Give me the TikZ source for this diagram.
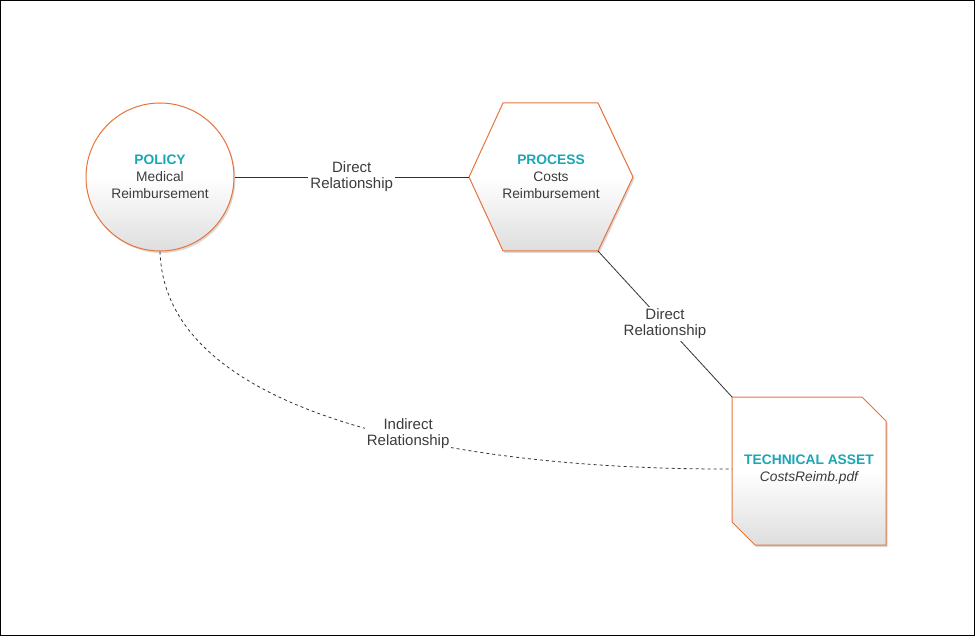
\documentclass[tikz,border=0pt]{standalone}
\usepackage{fontspec}
\setmainfont{Liberation Sans}
\usetikzlibrary{shadows}
\definecolor{edgeor}{HTML}{E8743B}
\definecolor{ttl}{HTML}{1AA6B7}
\definecolor{txt}{HTML}{3C3C3C}
\definecolor{lnc}{HTML}{333333}
\begin{document}
\begin{tikzpicture}[x=1pt,y=-1pt,
  shapefill/.style={top color=white, bottom color=black!13, middle color=white,
    draw=edgeor, line width=1pt,
    drop shadow={shadow xshift=1.5pt, shadow yshift=-2pt, opacity=0.25, fill=black!60}},
  inner/.style={align=center, text=txt, font=\fontsize{13.8}{17}\selectfont},
  conn/.style={draw=lnc, line width=0.8pt},
  lbl/.style={fill=white, align=center, text=txt, inner sep=2pt, font=\fontsize{15}{16}\selectfont},
  tt/.style={text=ttl, font=\bfseries}]
\useasboundingbox (0,0) rectangle (975,636);
\draw[black, line width=1pt] (0.5,0.5) rectangle (974.5,635.5);

% Policy
\node[circle, shapefill, minimum size=148pt, inner sep=0pt] (policy) at (160,177) {};
\node[inner] (policytext) at (160,177) {{\color{ttl}\bfseries POLICY}\\Medical\\Reimbursement};

% Process hexagon
\path[shapefill] (469,177) coordinate (hl) -- (503,103) -- (598,103) -- (633,177)
  -- (598,251) coordinate (hbr) -- (503,251) -- cycle;
\node[inner] (process) at (551,177) {{\color{ttl}\bfseries PROCESS}\\Costs\\Reimbursement};

% Technical asset
\path[shapefill] (732,397) coordinate (ttl) -- (862,397) -- (886,421) -- (886,545)
  -- (755,545) -- (732,522) -- cycle;
\coordinate (tleft) at (732,469);
\node[inner] (asset) at (809,470) {{\color{ttl}\bfseries TECHNICAL ASSET}\\\itshape CostsReimb.pdf};

% Connectors
\draw[conn] (policy.east) -- node[lbl] {Direct\\Relationship} (hl);
\draw[conn] (hbr) -- node[lbl] {Direct\\Relationship} (ttl);
\draw[conn, dashed] (policy.south) .. controls (165,420) and (470,470) ..
  node[lbl, pos=0.585, yshift=5pt] {Indirect\\Relationship} (tleft);
\end{tikzpicture}
\end{document}
